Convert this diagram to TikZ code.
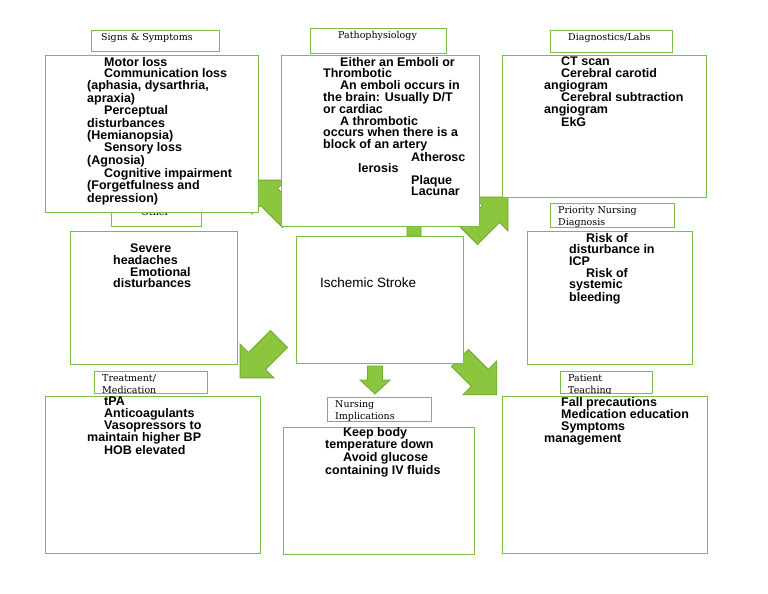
\documentclass[tikz,border=0pt]{standalone}
\usepackage{fontspec}
\setmainfont{Liberation Sans}
\newfontfamily\lserif{DejaVu Serif}
\begin{document}
\definecolor{boxg}{RGB}{122,190,70}
\definecolor{arrf}{RGB}{140,198,63}
\definecolor{arrl}{RGB}{110,170,45}
\newcommand\barr[7]{\begin{scope}[shift={(#1,#2)},rotate=#3]
\filldraw[fill=arrf,draw=arrl,line width=0.8pt] (0,-#5/2) -- (#4-#7,-#5/2) -- (#4-#7,-#6/2) -- (#4,0) -- (#4-#7,#6/2) -- (#4-#7,#5/2) -- (0,#5/2) -- cycle;
\end{scope}}
\begin{tikzpicture}[x=1pt,y=1pt,
  box/.style={draw=boxg,fill=white,line width=0.9pt,inner sep=0pt},
  body/.style={anchor=north west,inner sep=0pt,align=left,font=\fontsize{12.5}{11.6}\selectfont\bfseries},
  lab/.style={font=\lserif\fontsize{9.5}{12}\selectfont,anchor=north west,inner sep=0pt,align=left}]
\useasboundingbox (0,0) rectangle (768,-594);
\fill[white] (0,0) rectangle (768,-594);
% arrows
\barr{375}{-366}{-90}{28}{15}{30}{14}
\barr{279}{-339}{225}{55}{24}{48}{24}
\barr{460}{-358}{-45}{52}{24}{48}{24}
\barr{469}{-236}{45}{55}{24}{48}{24}
\barr{291}{-219}{135}{55}{24}{48}{24}
\barr{414}{-236}{90}{31}{14}{28}{14}
% label boxes helper
\newcommand\lbox[6]{\node[box,anchor=north west,minimum width=#3-#1,minimum height=#4-#2] (#5) at (#1,-#2) {};
\begin{scope}\clip (#1,-#2) rectangle (#3,-#4);
\node[lab] at (#1+8,-#2-3) {#6};\end{scope}}
\lbox{111}{205}{201}{226}{lOther}{\hspace{22pt}Other}
\node[box,anchor=north west,minimum width=213,minimum height=157] (signs) at (45,-55) {};
\lbox{91}{30}{219}{51}{lSigns}{\hspace{2pt}Signs \& Symptoms}
\node[box,anchor=north west,minimum width=198,minimum height=171] (patho) at (281,-55) {};
\lbox{310}{28}{446}{53}{lPatho}{\hspace{20pt}Pathophysiology}
\node[box,anchor=north west,minimum width=204,minimum height=142] (diag) at (502,-55) {};
\lbox{550}{30}{672}{52}{lDiag}{\hspace{10pt}Diagnostics/Labs}
\node[box,anchor=north west,minimum width=167,minimum height=133] (other) at (70,-231) {};
\node[box,anchor=north west,minimum width=167,minimum height=127] (center) at (296,-236) {};
\node[font=\fontsize{13.5}{16}\selectfont,anchor=west,inner sep=0pt] (ctext) at (320,-283) {Ischemic Stroke};
\lbox{550}{203}{674}{227}{lPrio}{Priority Nursing\\Diagnosis}
\node[box,anchor=north west,minimum width=165,minimum height=133] (prio) at (527,-231) {};
\lbox{94}{371}{207}{393}{lTreat}{Treatment/\\Medication}
\node[box,anchor=north west,minimum width=215,minimum height=157] (treat) at (45,-396) {};
\lbox{327}{397}{431}{421}{lNurs}{Nursing\\Implications}
\node[box,anchor=north west,minimum width=191,minimum height=127] (nurs) at (283,-427) {};
\lbox{560}{371}{652}{393}{lPat}{Patient\\Teaching}
\node[box,anchor=north west,minimum width=205,minimum height=157] (pat) at (502,-396) {};
% texts
\node[body] (tSigns) at (87,-57) {\hspace{17pt}Motor loss\\\hspace{17pt}Communication loss\\(aphasia, dysarthria,\\apraxia)\\\hspace{17pt}Perceptual\\disturbances\\(Hemianopsia)\\\hspace{17pt}Sensory loss\\(Agnosia)\\\hspace{17pt}Cognitive impairment\\(Forgetfulness and\\depression)};
\node[body] (tPatho) at (323,-57) {\hspace{17pt}Either an Emboli or\\Thrombotic\\\hspace{17pt}An emboli occurs in\\the brain: Usually D/T\\or cardiac\\\hspace{17pt}A thrombotic\\occurs when there is a\\block of an artery\\\hspace{88pt}Atherosc\\\hspace{35pt}lerosis\\\hspace{88pt}Plaque\\\hspace{88pt}Lacunar};
\node[body] (tDiag) at (544,-57) {\hspace{17pt}CT scan\\\hspace{17pt}Cerebral carotid\\angiogram\\\hspace{17pt}Cerebral subtraction\\angiogram\\\hspace{17pt}EkG};
\node[body] (tOther) at (113,-244) {\hspace{17pt}Severe\\headaches\\\hspace{17pt}Emotional\\disturbances};
\node[body] (tPrio) at (569,-233) {\hspace{17pt}Risk of\\disturbance in\\ICP\\\hspace{17pt}Risk of\\systemic\\bleeding};
\node[body] (tTreat) at (87,-397) {\hspace{17pt}tPA\\\hspace{17pt}Anticoagulants\\\hspace{17pt}Vasopressors to\\maintain higher BP\\\hspace{17pt}HOB elevated};
\node[body] (tNurs) at (325,-427) {\hspace{18pt}Keep body\\temperature down\\\hspace{18pt}Avoid glucose\\containing IV fluids};
\node[body] (tPat) at (544,-397) {\hspace{17pt}Fall precautions\\\hspace{17pt}Medication education\\\hspace{17pt}Symptoms\\management};
\end{tikzpicture}
\end{document}
